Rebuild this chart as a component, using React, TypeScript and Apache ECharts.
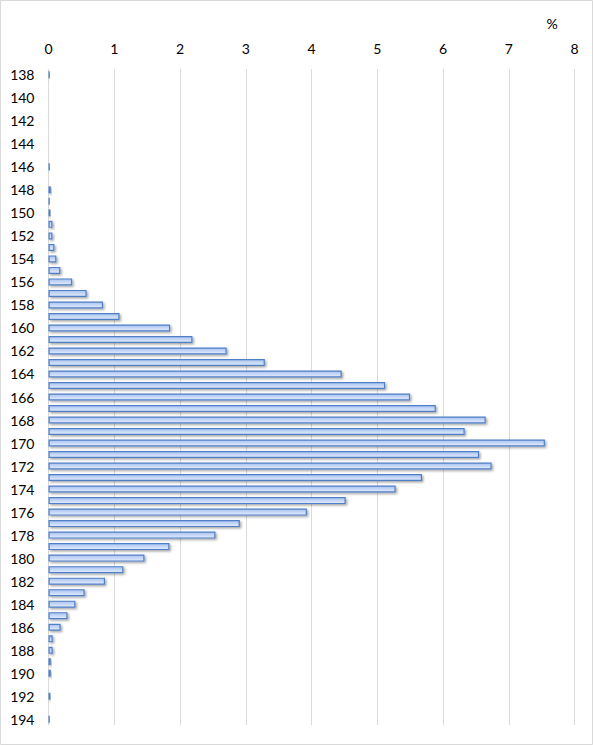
import React, { useEffect, useRef } from "react";
import * as echarts from "echarts";

const heights: string[] = [
  "138", "139", "140", "141", "142", "143", "144", "145", "146", "147",
  "148", "149", "150", "151", "152", "153", "154", "155", "156", "157",
  "158", "159", "160", "161", "162", "163", "164", "165", "166", "167",
  "168", "169", "170", "171", "172", "173", "174", "175", "176", "177",
  "178", "179", "180", "181", "182", "183", "184", "185", "186", "187",
  "188", "189", "190", "191", "192", "193", "194",
];

const percents: number[] = [
  0.02, 0.002, 0.002, 0.002, 0.002, 0.002, 0.002, 0.002, 0.02, 0.002,
  0.035, 0.02, 0.03, 0.06, 0.06, 0.09, 0.12, 0.18, 0.36, 0.58,
  0.83, 1.08, 1.85, 2.19, 2.71, 3.29, 4.46, 5.12, 5.5, 5.89,
  6.65, 6.33, 7.55, 6.55, 6.74, 5.68, 5.28, 4.52, 3.93, 2.91,
  2.54, 1.84, 1.46, 1.14, 0.86, 0.55, 0.41, 0.29, 0.185, 0.064,
  0.064, 0.035, 0.035, 0.002, 0.03, 0.002, 0.02,
];

const xTicks = { min: 0, max: 8, interval: 1 };
const unitLabel = "%";

export default function App() {
  const ref = useRef<HTMLDivElement>(null);

  useEffect(() => {
    document.body.style.margin = "0";
    if (!ref.current) return;
    const chart = echarts.init(ref.current, undefined, { renderer: "svg" });
    const font = "Lato, 'Noto Sans', sans-serif";
    const fill = new echarts.graphic.LinearGradient(0, 0, 0, 1, [
      { offset: 0, color: "#a9c3f1" },
      { offset: 1, color: "#e3ecfc" },
    ]);
    const data = percents.map((v) =>
      v < 0.005
        ? {
            value: v,
            itemStyle: {
              color: "#f2f2f2",
              borderColor: "#dedede",
              shadowBlur: 0,
              shadowOffsetX: 0,
              shadowOffsetY: 0,
              shadowColor: "transparent",
            },
          }
        : { value: v }
    );
    chart.setOption({
      animation: false,
      backgroundColor: "#ffffff",
      grid: { left: 48.5, right: 18.5, top: 69, bottom: 20, containLabel: false },
      xAxis: {
        type: "value",
        position: "top",
        min: xTicks.min,
        max: xTicks.max,
        interval: xTicks.interval,
        axisLine: { show: false },
        axisTick: { show: false },
        axisLabel: { color: "#000", fontFamily: font, fontSize: 14, margin: 14 },
        splitLine: { show: true, lineStyle: { color: "#d9d9d9", width: 1 } },
      },
      yAxis: {
        type: "category",
        inverse: true,
        data: heights,
        axisLine: { show: false },
        axisTick: { show: false },
        splitLine: { show: false },
        axisLabel: {
          interval: 1,
          color: "#000",
          fontFamily: font,
          fontSize: 14,
          margin: 14,
        },
      },
      series: [
        {
          type: "bar",
          data,
          barWidth: 7,
          itemStyle: {
            color: fill,
            borderColor: "#4f7fc8",
            borderWidth: 1.2,
            shadowColor: "rgba(0,0,0,0.35)",
            shadowBlur: 2,
            shadowOffsetX: 1.5,
            shadowOffsetY: 1.5,
          },
          emphasis: { disabled: true },
        },
      ],
      graphic: [
        {
          type: "rect",
          silent: true,
          shape: { x: 0.5, y: 0.5, width: 592, height: 744 },
          style: { fill: "none", stroke: "#d9d9d9", lineWidth: 1 },
        },
        {
          type: "text",
          silent: true,
          x: 552,
          y: 23,
          style: {
            text: unitLabel,
            fill: "#000",
            font: `14px ${font}`,
            align: "center",
            verticalAlign: "middle",
          },
        },
      ],
    });
    return () => chart.dispose();
  }, []);

  return <div ref={ref} style={{ width: 593, height: 745 }} />;
}
